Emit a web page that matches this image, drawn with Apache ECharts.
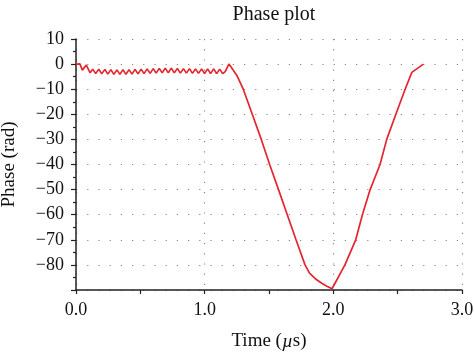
<!DOCTYPE html>
<html>
<head>
<meta charset="utf-8">
<script src="https://cdn.jsdelivr.net/npm/echarts@6/dist/echarts.min.js"></script>
<style>html,body{margin:0;padding:0;background:#fff}#c{width:474px;height:357px}</style>
</head>
<body>
<div id="c"></div>
<script>
var titleText = 'Phase plot';
var xName = 'Time (µs)';
var yName = 'Phase (rad)';
var xTicks = [0, 1, 2, 3];
var yTicks = [10, 0, -10, -20, -30, -40, -50, -60, -70, -80];

var timeUs = [
  0, 0.03, 0.05, 0.065, 0.08, 0.11, 0.13,
  0.153, 0.177, 0.200, 0.224, 0.247, 0.271, 0.294, 0.318, 0.341, 0.365, 0.388, 0.412,
  0.435, 0.459, 0.482, 0.506, 0.529, 0.553, 0.576, 0.600, 0.623, 0.647, 0.670, 0.694,
  0.717, 0.741, 0.764, 0.788, 0.811, 0.835, 0.858, 0.882, 0.905, 0.929, 0.952, 0.976,
  0.999, 1.023, 1.046, 1.070, 1.093, 1.117, 1.140, 1.160,
  1.188, 1.20, 1.25, 1.30, 1.37, 1.44, 1.505, 1.574, 1.642, 1.71, 1.78, 1.815,
  1.86, 1.91, 1.95, 1.99, 2.0, 2.09, 2.174, 2.226, 2.286, 2.363, 2.415, 2.486,
  2.558, 2.61, 2.70
];
var phaseRad = [
  0, 0.1, -2.4, -2.2, -0.4, -3.5, -2.0,
  -3.8, -2.0, -3.9, -2.1, -4.0, -2.2, -4.1, -2.3, -4.1, -2.2, -4.1, -2.2,
  -4.0, -2.1, -3.9, -2.0, -3.8, -1.9, -3.7, -1.8, -3.6, -1.7, -3.5, -1.6,
  -3.5, -1.6, -3.5, -1.7, -3.6, -1.8, -3.6, -1.8, -3.7, -1.9, -3.7, -1.9,
  -3.8, -1.9, -3.8, -1.9, -3.8, -2.0, -3.8, -3.0,
  0, -0.8, -4.5, -10, -20, -30, -40, -50, -60, -70, -80, -83.3,
  -85.5, -87.3, -88.5, -89.5, -89.4, -80, -70, -60, -50, -40, -30, -20,
  -10, -3.3, 0
];

var seriesData = timeUs.map(function (t, i) { return [t, phaseRad[i]]; });
var serif = '"Liberation Serif", "DejaVu Serif", serif';

var chart = echarts.init(document.getElementById('c'));
chart.setOption({
  animation: false,
  backgroundColor: '#fff',
  title: {
    text: titleText,
    left: 269, top: 0, textAlign: 'center',
    textStyle: { fontFamily: serif, fontSize: 20, fontWeight: 'normal', color: '#111' }
  },
  grid: { left: 76, right: 12, top: 39, bottom: 67, containLabel: false, outerBoundsMode: 'none' },
  xAxis: {
    type: 'value', min: xTicks[0], max: xTicks[xTicks.length - 1], interval: 1,
    name: '{a|Time (}{i|µ}{a|s)}', nameLocation: 'middle', nameGap: 42,
    nameTextStyle: {
      fontFamily: serif, fontSize: 19, color: '#111',
      rich: { a: { fontFamily: serif, fontSize: 19, color: '#111' }, i: { fontFamily: serif, fontSize: 19, fontStyle: 'italic', color: '#111' } }
    },
    axisLine: { show: true, onZero: false, lineStyle: { color: '#222', width: 1.5 } },
    axisTick: { show: true, inside: false, length: 4, lineStyle: { color: '#222', width: 1.2 } },
    minorTick: { show: true, splitNumber: 2, length: 4, lineStyle: { color: '#222', width: 1.2 } },
    axisLabel: {
      margin: 11, fontFamily: serif, fontSize: 18, color: '#111',
      formatter: function (v) { return v.toFixed(1); }
    },
    splitLine: { show: true, lineStyle: { color: '#888', width: 1.2, type: [1.2, 9] } }
  },
  yAxis: {
    type: 'value', min: -90, max: yTicks[0], interval: 10,
    name: yName, nameLocation: 'middle', nameGap: 57, nameRotate: 90,
    nameTextStyle: { fontFamily: serif, fontSize: 19, color: '#111' },
    axisLine: { show: true, onZero: false, lineStyle: { color: '#222', width: 1.5 } },
    axisTick: { show: true, inside: false, length: 5, lineStyle: { color: '#222', width: 1.2 } },
    minorTick: { show: true, splitNumber: 2, length: 3, lineStyle: { color: '#222', width: 1.2 } },
    axisLabel: {
      margin: 12, fontFamily: serif, fontSize: 18, color: '#111',
      formatter: function (v) {
        if (yTicks.indexOf(v) < 0) return '';
        return v < 0 ? '\u2212' + Math.abs(v) : String(v);
      }
    },
    splitLine: { show: true, lineStyle: { color: '#888', width: 1.2, type: [1.2, 10] } }
  },
  series: [{
    type: 'line', data: seriesData, showSymbol: false, symbol: 'none',
    lineStyle: { color: '#e3262f', width: 1.7 }, clip: false
  }]
});
</script>
</body>
</html>
